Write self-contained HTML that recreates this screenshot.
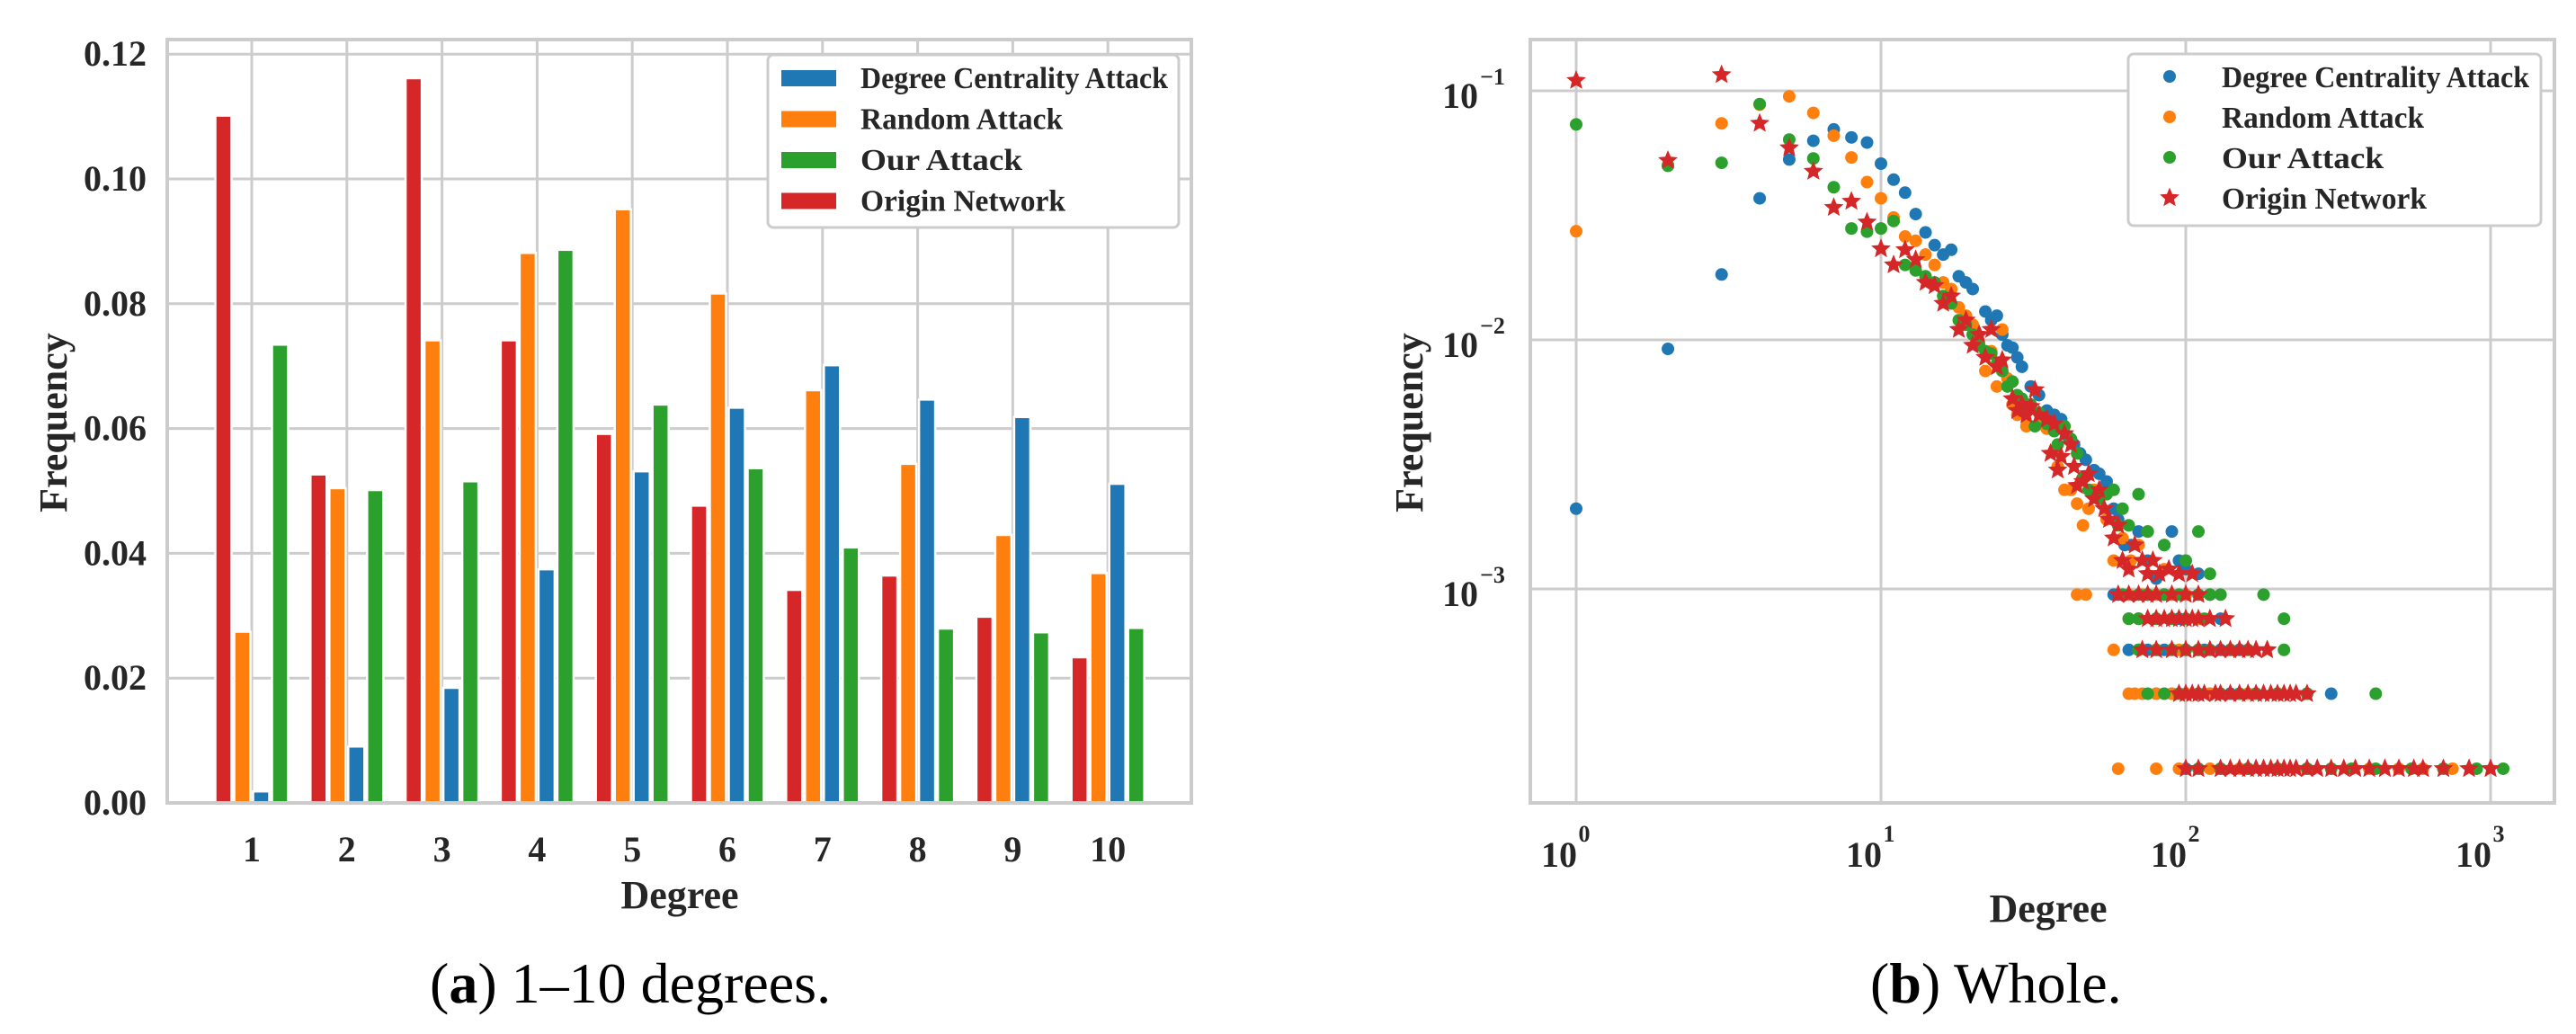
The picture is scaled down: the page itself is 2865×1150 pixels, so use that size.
<!DOCTYPE html>
<html><head><meta charset="utf-8"><style>
html,body{margin:0;padding:0;background:#fff;}
svg{display:block;}
text{font-family:"Liberation Serif",serif;fill:#262626;}
</style></head><body>
<svg id="fig" width="2865" height="1150" viewBox="0 0 2865 1150" xmlns="http://www.w3.org/2000/svg">
<g id="left"></g>
<g id="right"></g>
<text x="478" y="1115" font-size="64" style="fill:#000">(<tspan font-weight="bold">a</tspan>) 1–10 degrees.</text>
<text x="2080" y="1115" font-size="64" style="fill:#000">(<tspan font-weight="bold">b</tspan>) Whole.</text>
</svg>
<script>
// ---------- Bar chart data ----------
const barCategories = [1,2,3,4,5,6,7,8,9,10];
const barYTicks = [0,0.02,0.04,0.06,0.08,0.10,0.12];
const barYTickLabels = ["0.00","0.02","0.04","0.06","0.08","0.10","0.12"];
const originValues = [0.110,0.0525,0.116,0.074,0.059,0.0475,0.034,0.0363,0.0297,0.0232];
const randomValues = [0.0273,0.0503,0.074,0.088,0.095,0.0815,0.066,0.0542,0.0428,0.0367];
const degreeValues = [0.0017,0.0089,0.0183,0.0373,0.053,0.0632,0.070,0.0645,0.0617,0.051];
const ourValues = [0.0733,0.050,0.0514,0.0885,0.0637,0.0535,0.0408,0.0278,0.0272,0.0279];
const seriesNames = ["Degree Centrality Attack","Random Attack","Our Attack","Origin Network"];

// ---------- Scatter data ----------
const TOTAL = 5270;
const blueHeadX = [1,2,3,4,5,6,7,8,9,10,11,12,13,14,15,16,17,18,19,20,22,23,24,25,26,27,28,29,31,33,35,37,39,41,43,45,47,50,52,55,58,60,63,66,70,75,80,85,90,95,100,110];
const blueHeadY = [0.0021,0.0092,0.0183,0.037,0.053,0.063,0.070,0.065,0.062,0.051,0.044,0.039,0.032,0.027,0.024,0.022,0.023,0.018,0.017,0.016,0.013,0.012,0.0125,0.0105,0.0095,0.0093,0.0085,0.0078,0.0065,0.006,0.0052,0.005,0.0048,0.0041,0.0038,0.0035,0.0033,0.003,0.0029,0.0027,0.0021,0.0019,0.0015,0.0015,0.0017,0.0013,0.0011,0.0015,0.0017,0.0013,0.0012,0.00115];
const blueTailX = [58,60,65,75,85,100,120, 70,80,95,110,130, 65,75,85,100,115,130,150, 80,90,100,120,140,170,200,250,300, 100,130,160,200,250];
const blueTailC = [5,5,5,5,5,5,5, 4,4,4,4,4, 3,3,3,3,3,3,3, 2,2,2,2,2,2,2,2,2, 1,1,1,1,1];

const orangeHeadX = [1,2,3,4,5,6,7,8,9,10,11,12,13,14,15,16,17,18,19,20,21,22,23,24,25,26,27,28,29,30,31,33,35,37,38,40,42,44,46,48,50,55,58,62,66,70,75,85];
const orangeHeadY = [0.0273,0.0503,0.074,0.088,0.095,0.0815,0.066,0.054,0.043,0.037,0.031,0.026,0.025,0.022,0.020,0.017,0.016,0.0135,0.0125,0.0115,0.0095,0.0075,0.009,0.0065,0.011,0.007,0.0055,0.005,0.0053,0.0045,0.0053,0.0046,0.0044,0.0036,0.0031,0.0025,0.0025,0.0022,0.0018,0.0021,0.0025,0.0019,0.0013,0.0016,0.0013,0.0015,0.0017,0.0012];
const orangeTailX = [44,47,65,72,80,90,100, 65,70,80,90,110, 58,70,80,95,110,140, 65,68,72,80,90,100,120,160,200, 60,80,95,120,150,200,250,300,400,500,600,750];
const orangeTailC = [5,5,5,5,5,5,5, 4,4,4,4,4, 3,3,3,3,3,3, 2,2,2,2,2,2,2,2,2, 1,1,1,1,1,1,1,1,1,1,1,1];

const greenHeadX = [1,2,3,4,5,6,7,8,9,10,11,12,13,14,15,16,17,18,19,20,21,22,23,24,25,26,27,28,29,30,31,32,33,35,37,38,40,42,44,46,48,50,52,55,58,60,62,65,70,75,85,100,110,120];
const greenHeadY = [0.0733,0.050,0.0514,0.0885,0.0637,0.0535,0.041,0.028,0.0272,0.028,0.030,0.020,0.019,0.018,0.017,0.015,0.014,0.012,0.0115,0.0105,0.0095,0.009,0.0088,0.008,0.0075,0.0065,0.0068,0.006,0.0058,0.0052,0.0055,0.0045,0.0051,0.0046,0.0043,0.0038,0.0045,0.004,0.0035,0.0028,0.0025,0.0024,0.0023,0.0024,0.0025,0.0018,0.0021,0.0018,0.0024,0.0017,0.0015,0.0013,0.0017,0.00115];
const greenTailX = [62,70,75,85,95,110,120,130,180, 65,70,80,90,100,115,210, 70,80,90,100,110,120,140,160,210, 75,85,95,110,130,150,170,200,250,420, 110,130,160,200,250,300,350,420,550,700,900,1100];
const greenTailC = [5,5,5,5,5,5,5,5,5, 4,4,4,4,4,4,4, 3,3,3,3,3,3,3,3,3, 2,2,2,2,2,2,2,2,2,2, 1,1,1,1,1,1,1,1,1,1,1,1];

const redHeadX = [1,2,3,4,5,6,7,8,9,10,11,12,13,14,15,16,17,18,19,20,21,22,23,24,25,27,28,29,30,31,32,33,35,36,37,38,39,40,42,43,44,46,48,50,52,54,56,58,60,62,65,68,72,75,78,82,88,95,105];
const redHeadY = [0.110,0.0525,0.116,0.074,0.059,0.0475,0.034,0.036,0.0297,0.0232,0.020,0.023,0.021,0.017,0.0165,0.014,0.015,0.011,0.012,0.0095,0.0105,0.0085,0.011,0.0078,0.0083,0.0058,0.0052,0.0055,0.005,0.0054,0.0063,0.005,0.0048,0.0035,0.0046,0.003,0.0034,0.0042,0.0038,0.0031,0.0026,0.0027,0.0029,0.0023,0.0025,0.0021,0.0019,0.0016,0.0018,0.0013,0.0012,0.0015,0.0013,0.00115,0.0013,0.00115,0.0012,0.00115,0.00115];
const redTailX = [60,65,70,75,80,90,100,110, 75,80,85,90,95,100,105,110,120,135, 72,80,90,100,110,120,130,140,150,160,170,185, 95,100,105,110,115,125,130,140,150,160,170,180,190,200,210,220,230,250, 100,110,130,140,150,160,170,180,190,200,210,220,230,250,270,300,330,360,400,450,500,560,600,700,850,1000];
const redTailC = [5,5,5,5,5,5,5,5, 4,4,4,4,4,4,4,4,4,4, 3,3,3,3,3,3,3,3,3,3,3,3, 2,2,2,2,2,2,2,2,2,2,2,2,2,2,2,2,2,2, 1,1,1,1,1,1,1,1,1,1,1,1,1,1,1,1,1,1,1,1,1,1,1,1,1,1];

const xLogTicks = [0,1,2,3];
const yLogTicks = [-1,-2,-3];

const NS = "http://www.w3.org/2000/svg";
const COLORS = {blue:"#1f77b4",orange:"#ff7f0e",green:"#2ca02c",red:"#d62728"};
const GRID = "#cccccc";
function mk(tag, attrs, parent){
  const e = document.createElementNS(NS, tag);
  for (const k in attrs) e.setAttribute(k, attrs[k]);
  parent.appendChild(e);
  return e;
}

// ---------- Left bar chart ----------
const L = document.getElementById('left');
const axL = {x0:186, x1:1325, y0:44, y1:893};
const bx = c => 280 + (c - 1) * 105.8;
const by = v => 893 - v / 0.02 * 138.8;
barYTicks.forEach((t,i) => {
  const g = mk('line',{x1:axL.x0,x2:axL.x1,y1:by(t),y2:by(t),stroke:GRID,'stroke-width':3},L);
  
  
  const tx = mk('text',{x:163,y:by(t)+13,'font-size':40,'font-weight':'bold','text-anchor':'end'},L);
  tx.textContent = barYTickLabels[i];
  
  
});
barCategories.forEach(c => {
  const g = mk('line',{x1:bx(c),x2:bx(c),y1:axL.y0,y2:axL.y1,stroke:GRID,'stroke-width':3},L);
  
  
  const tx = mk('text',{x:bx(c),y:958,'font-size':40,'font-weight':'bold','text-anchor':'middle'},L);
  tx.textContent = String(c);
  
  
});
const barSeries = [
  {vals:originValues,color:COLORS.red,off:-31.5,name:'bar-origin-network'},
  {vals:randomValues,color:COLORS.orange,off:-10.5,name:'bar-random-attack'},
  {vals:degreeValues,color:COLORS.blue,off:10.5,name:'bar-degree-centrality-attack'},
  {vals:ourValues,color:COLORS.green,off:31.5,name:'bar-our-attack'}
];
barSeries.forEach(s => {
  s.vals.forEach((v,i) => {
    const cx = bx(barCategories[i]) + s.off;
    const r = mk('rect',{x:cx-9,y:by(v)-1,width:18,height:by(0)-by(v)+1,fill:s.color,stroke:'#fff','stroke-width':2.5},L);
    
    
  });
});
const frameL = mk('rect',{x:axL.x0,y:axL.y0,width:axL.x1-axL.x0,height:axL.y1-axL.y0,fill:'none',stroke:GRID,'stroke-width':4},L);


const xlL = mk('text',{x:756,y:1010,'font-size':44,'font-weight':'bold','text-anchor':'middle'},L);
xlL.textContent = 'Degree';


const ylL = mk('text',{x:0,y:0,'font-size':44,'font-weight':'bold','text-anchor':'middle',transform:'translate(74,470) rotate(-90)'},L);
ylL.textContent = 'Frequency';


// legend left
const lgL = mk('g',{},L);


mk('rect',{x:854,y:61,width:457,height:192,rx:6,fill:'#fff',stroke:GRID,'stroke-width':3},lgL);
const legColors = [COLORS.blue,COLORS.orange,COLORS.green,COLORS.red];
const legLens = [342,225,180,228];
seriesNames.forEach((n,i) => {
  const y = 86 + i * 45.5;
  const p = mk('rect',{x:869,y:y-8,width:61,height:18,fill:legColors[i]},lgL);
  
  
  const t = mk('text',{x:957,y:y+12,'font-size':34,'font-weight':'bold',textLength:legLens[i],lengthAdjust:'spacingAndGlyphs'},lgL);
  t.textContent = n;
  
  
});

// ---------- Right scatter chart ----------
const R = document.getElementById('right');
const axR = {x0:1702, x1:2841, y0:44, y1:893};
const sx = d => 1753 + 339 * Math.log10(d);
const sy = f => 101 - 277 * (Math.log10(f) + 1);
xLogTicks.forEach(e => {
  const g = mk('line',{x1:sx(Math.pow(10,e)),x2:sx(Math.pow(10,e)),y1:axR.y0,y2:axR.y1,stroke:GRID,'stroke-width':3},R);
  
  
  const t = mk('text',{x:sx(Math.pow(10,e))-19,y:964,'font-size':40,'font-weight':'bold','text-anchor':'middle'},R);
  t.textContent = '10';
  
  
  const s = mk('text',{x:sx(Math.pow(10,e))+9,y:936,'font-size':26,'font-weight':'bold','text-anchor':'middle'},R);
  s.textContent = String(e);
  
  
});
yLogTicks.forEach(e => {
  const yy = sy(Math.pow(10,e));
  const g = mk('line',{x1:axR.x0,x2:axR.x1,y1:yy,y2:yy,stroke:GRID,'stroke-width':3},R);
  
  
  const t = mk('text',{x:1624,y:yy+19,'font-size':40,'font-weight':'bold','text-anchor':'middle'},R);
  t.textContent = '10';
  
  
  const s = mk('text',{x:1660,y:yy-7,'font-size':26,'font-weight':'bold','text-anchor':'middle'},R);
  s.textContent = '\u2212' + String(-e);
  
  
});
function starPath(cx, cy, ro){
  const ri = ro * 0.45; let d = '';
  for (let k = 0; k < 10; k++){
    const a = -Math.PI/2 + k * Math.PI / 5;
    const r = k % 2 ? ri : ro;
    d += (k ? 'L' : 'M') + (cx + r*Math.cos(a)).toFixed(1) + ',' + (cy + r*Math.sin(a)).toFixed(1);
  }
  return d + 'Z';
}
function plotSeries(hx, hy, tx, tc, color, star, name){
  const g = mk('g',{},R);
  
  
  const pts = [];
  hx.forEach((d,i) => pts.push([d, hy[i]]));
  tx.forEach((d,i) => pts.push([d, tc[i] / TOTAL]));
  pts.forEach(p => {
    let el;
    if (star) el = mk('path',{d:starPath(sx(p[0]), sy(p[1]), 11.5), fill:color},g);
    else el = mk('circle',{cx:sx(p[0]), cy:sy(p[1]), r:7, fill:color},g);
    
    
  });
}
plotSeries(blueHeadX, blueHeadY, blueTailX, blueTailC, COLORS.blue, false, 'series-degree-centrality-attack');
plotSeries(orangeHeadX, orangeHeadY, orangeTailX, orangeTailC, COLORS.orange, false, 'series-random-attack');
plotSeries(greenHeadX, greenHeadY, greenTailX, greenTailC, COLORS.green, false, 'series-our-attack');
plotSeries(redHeadX, redHeadY, redTailX, redTailC, COLORS.red, true, 'series-origin-network');
const frameR = mk('rect',{x:axR.x0,y:axR.y0,width:axR.x1-axR.x0,height:axR.y1-axR.y0,fill:'none',stroke:GRID,'stroke-width':4},R);


const xlR = mk('text',{x:2278,y:1025,'font-size':44,'font-weight':'bold','text-anchor':'middle'},R);
xlR.textContent = 'Degree';


const ylR = mk('text',{x:0,y:0,'font-size':44,'font-weight':'bold','text-anchor':'middle',transform:'translate(1582,470) rotate(-90)'},R);
ylR.textContent = 'Frequency';


const lgR = mk('g',{},R);


mk('rect',{x:2367,y:60,width:459,height:191,rx:6,fill:'#fff',stroke:GRID,'stroke-width':3},lgR);
seriesNames.forEach((n,i) => {
  const y = 85 + i * 45;
  let m;
  if (i === 3) m = mk('path',{d:starPath(2413, y, 11.5), fill:legColors[i]},lgR);
  else m = mk('circle',{cx:2413, cy:y, r:7, fill:legColors[i]},lgR);
  
  
  const t = mk('text',{x:2471,y:y+12,'font-size':34,'font-weight':'bold',textLength:legLens[i],lengthAdjust:'spacingAndGlyphs'},lgR);
  t.textContent = n;
  
  
});
</script>
</body></html>
